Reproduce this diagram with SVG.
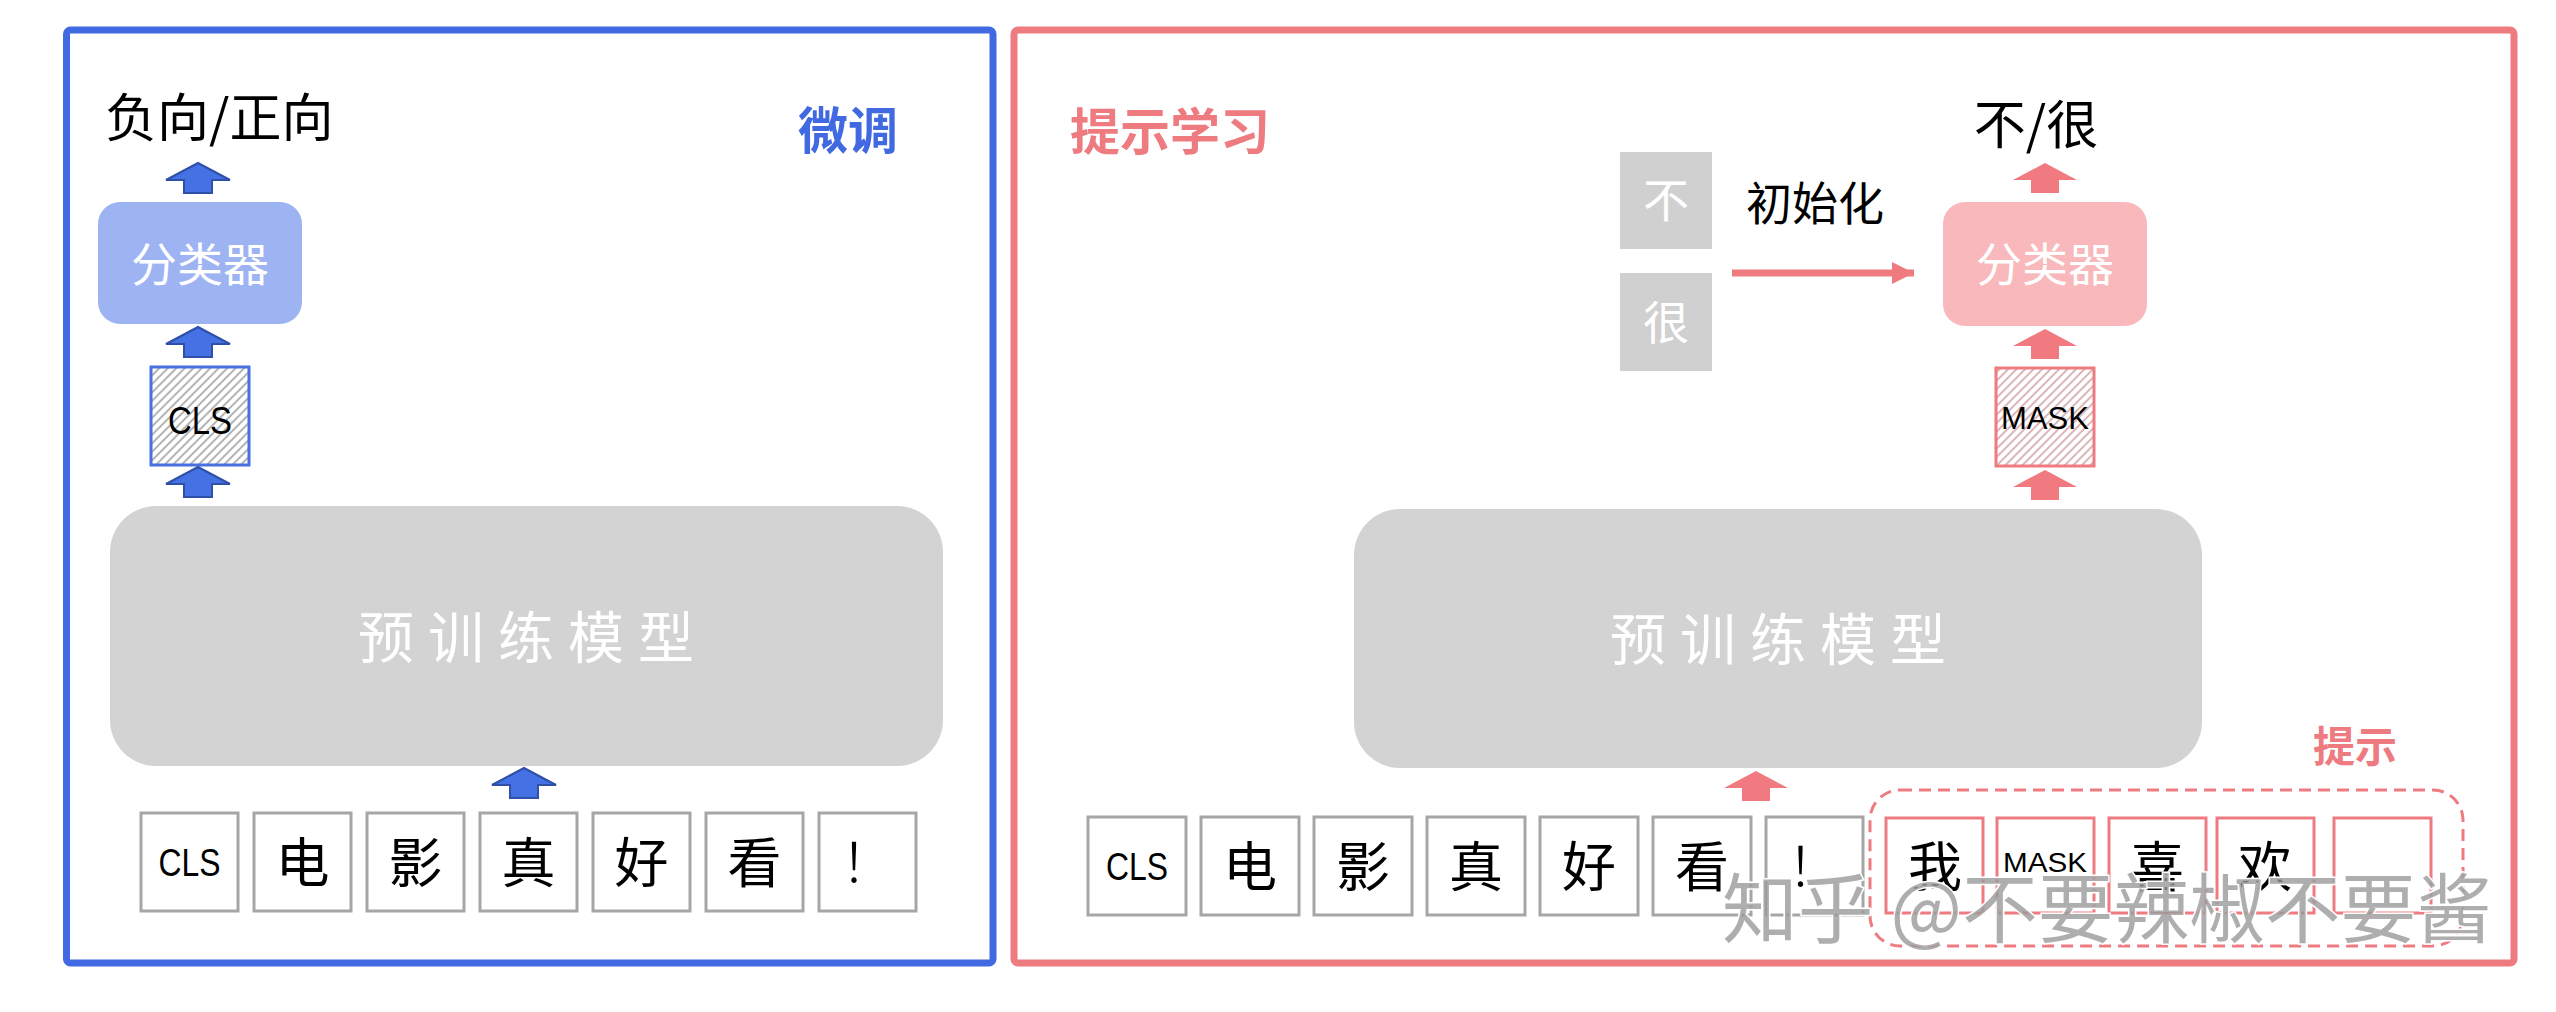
<svg xmlns="http://www.w3.org/2000/svg" width="2556" height="1012" viewBox="0 0 2556 1012">
<style>
.cjk{font-family:"Noto Sans CJK SC",sans-serif}
.lat{font-family:"Liberation Sans","Noto Sans CJK SC",sans-serif}
.tok{fill:#fff;stroke:#a6a6a6;stroke-width:3}
.ptok{fill:#fff;stroke:#ee7b80;stroke-width:3}
.tt{font-family:"Noto Sans CJK SC",sans-serif;font-size:54px;fill:#000;text-anchor:middle}
.tl{font-family:"Liberation Sans","Noto Sans CJK SC",sans-serif;font-size:39px;fill:#000;text-anchor:middle}
.model{fill:#d3d3d3}
.mtxt{font-family:"Noto Sans CJK SC",sans-serif;font-size:56px;fill:#fff;text-anchor:middle;letter-spacing:14px}
.wtxt{font-family:"Noto Sans CJK SC",sans-serif;font-size:46px;fill:#fff;text-anchor:middle}
.barrow{fill:#4472e4;stroke:#2f4fa8;stroke-width:2}
.parrow{fill:#f07a80}
</style>
<defs>
<path id="blk" d="M0,0 L32,17 L14,17 L14,30 L-14,30 L-14,17 L-32,17 Z"/>
<pattern id="hb" width="6" height="6" patternUnits="userSpaceOnUse" patternTransform="rotate(45)">
<rect width="6" height="6" fill="#fff"/>
<line x1="1" y1="0" x2="1" y2="6" stroke="#8c8c8c" stroke-width="1.3"/>
</pattern>
<pattern id="hp" width="6" height="6" patternUnits="userSpaceOnUse" patternTransform="rotate(45)">
<rect width="6" height="6" fill="#fff"/>
<line x1="1" y1="0" x2="1" y2="6" stroke="#c98f92" stroke-width="1.3"/>
</pattern>
<marker id="ah" markerWidth="22" markerHeight="22" refX="22" refY="11" orient="auto" markerUnits="userSpaceOnUse">
<path d="M0,0 L22,11 L0,22 Z" fill="#ee7b80"/>
</marker>
</defs>

<g id="panel-finetune">
<rect x="66.5" y="30" width="926.5" height="933" rx="4" fill="#fff" stroke="#4169e1" stroke-width="7"/>
<text class="cjk" x="848" y="149" font-size="50" font-weight="700" fill="#4169e1" text-anchor="middle">微调</text>
</g>
<g id="panel-prompt">
<rect x="1014" y="30" width="1500" height="933" rx="4" fill="#fff" stroke="#ee7b80" stroke-width="7"/>
<text class="cjk" x="1070" y="150" font-size="50" font-weight="700" fill="#ee7b80">提示学习</text>
</g>

<!-- left panel nodes -->
<g id="l-output"><text class="cjk" x="105" y="137" font-size="52" fill="#000">负向/正向</text></g>
<g id="l-classifier">
<rect x="98" y="202" width="204" height="122" rx="22" fill="#9eb4f2"/>
<text class="wtxt" x="200" y="281">分类器</text>
</g>
<g id="l-cls-out">
<rect x="151" y="367" width="98" height="98" fill="url(#hb)" stroke="#4a6fe0" stroke-width="3"/>
<text class="tl" x="200" y="434" textLength="64" lengthAdjust="spacingAndGlyphs">CLS</text>
</g>
<g id="l-model">
<rect class="model" x="110" y="506" width="833" height="260" rx="46"/>
<text class="mtxt" x="533" y="658">预训练模型</text>
</g>
<g id="l-tokens">
<rect class="tok" x="141" y="813" width="97" height="98"/><text class="tl" x="189.5" y="876" textLength="62" lengthAdjust="spacingAndGlyphs">CLS</text>
<rect class="tok" x="254" y="813" width="97" height="98"/><text class="tt" x="302.5" y="883">电</text>
<rect class="tok" x="367" y="813" width="97" height="98"/><text class="tt" x="415.5" y="883">影</text>
<rect class="tok" x="480" y="813" width="97" height="98"/><text class="tt" x="528.5" y="883">真</text>
<rect class="tok" x="593" y="813" width="97" height="98"/><text class="tt" x="641.5" y="883">好</text>
<rect class="tok" x="706" y="813" width="97" height="98"/><text class="tt" x="754.5" y="883">看</text>
<rect class="tok" x="819" y="813" width="97" height="98"/><text class="tt" x="867.5" y="883" font-weight="300">！</text>
</g>

<!-- right panel nodes -->
<g id="r-output"><text class="cjk" x="2036" y="144" font-size="52" fill="#000" text-anchor="middle">不/很</text></g>
<g id="r-word-bu">
<rect x="1620" y="152" width="92" height="97" fill="#d0d0d0"/>
<text class="wtxt" x="1666" y="217">不</text>
</g>
<g id="r-word-hen">
<rect x="1620" y="273" width="92" height="98" fill="#d0d0d0"/>
<text class="wtxt" x="1666" y="339">很</text>
</g>
<g id="r-init-label"><text class="cjk" x="1815" y="220" font-size="46" fill="#000" text-anchor="middle">初始化</text></g>
<g id="r-classifier">
<rect x="1943" y="202" width="204" height="124" rx="22" fill="#f8b8bc"/>
<text class="wtxt" x="2045" y="281">分类器</text>
</g>
<g id="r-mask-out">
<rect x="1996" y="368" width="98" height="98" fill="url(#hp)" stroke="#ee7b80" stroke-width="3"/>
<text class="lat" x="2045" y="429" font-size="32" fill="#000" text-anchor="middle" textLength="88" lengthAdjust="spacingAndGlyphs">MASK</text>
</g>
<g id="r-model">
<rect class="model" x="1354" y="509" width="848" height="259" rx="46"/>
<text class="mtxt" x="1785" y="660">预训练模型</text>
</g>
<g id="r-tokens">
<rect class="tok" x="1088" y="817" width="98" height="98"/><text class="tl" x="1137" y="880" textLength="62" lengthAdjust="spacingAndGlyphs">CLS</text>
<rect class="tok" x="1201" y="817" width="98" height="98"/><text class="tt" x="1250" y="887">电</text>
<rect class="tok" x="1314" y="817" width="98" height="98"/><text class="tt" x="1363" y="887">影</text>
<rect class="tok" x="1427" y="817" width="98" height="98"/><text class="tt" x="1476" y="887">真</text>
<rect class="tok" x="1540" y="817" width="98" height="98"/><text class="tt" x="1589" y="887">好</text>
<rect class="tok" x="1653" y="817" width="98" height="98"/><text class="tt" x="1702" y="887">看</text>
<rect class="tok" x="1766" y="817" width="97" height="98"/><text class="tt" x="1814" y="887" font-weight="300">！</text>
</g>
<g id="r-prompt">
<rect x="1870" y="790" width="593" height="156" rx="30" fill="none" stroke="#ee7b80" stroke-width="3" stroke-dasharray="12 7"/>
<text class="cjk" x="2355" y="762" font-size="42" font-weight="700" fill="#ee7b80" text-anchor="middle">提示</text>
<rect class="ptok" x="1886" y="818" width="97" height="95"/><text class="tt" x="1935" y="887">我</text>
<rect class="ptok" x="1997" y="818" width="97" height="95"/><text class="lat" x="2045" y="872" font-size="28" fill="#000" text-anchor="middle" textLength="84" lengthAdjust="spacingAndGlyphs">MASK</text>
<rect class="ptok" x="2109" y="818" width="97" height="95"/><text class="tt" x="2157" y="887">喜</text>
<rect class="ptok" x="2217" y="818" width="97" height="95"/><text class="tt" x="2265" y="887">欢</text>
<rect class="ptok" x="2334" y="818" width="97" height="95"/>
</g>

<g id="connectors">
<use href="#blk" class="barrow" x="198" y="163"/>
<use href="#blk" class="barrow" x="198" y="327"/>
<use href="#blk" class="barrow" x="198" y="467"/>
<use href="#blk" class="barrow" x="524" y="768"/>
<use href="#blk" class="parrow" x="2045" y="163"/>
<use href="#blk" class="parrow" x="2045" y="329"/>
<use href="#blk" class="parrow" x="2045" y="470"/>
<use href="#blk" class="parrow" x="1756" y="771"/>
<line x1="1732" y1="273" x2="1914" y2="273" stroke="#ee7b80" stroke-width="7" marker-end="url(#ah)"/>
</g>

<g id="watermark">
<text class="cjk" x="1722" y="937" font-size="76" fill="#9a9a9a" fill-opacity="0.8" stroke="#fff" stroke-width="3" paint-order="stroke" textLength="770" lengthAdjust="spacingAndGlyphs">知乎 @不要辣椒不要酱</text>
</g>
</svg>
